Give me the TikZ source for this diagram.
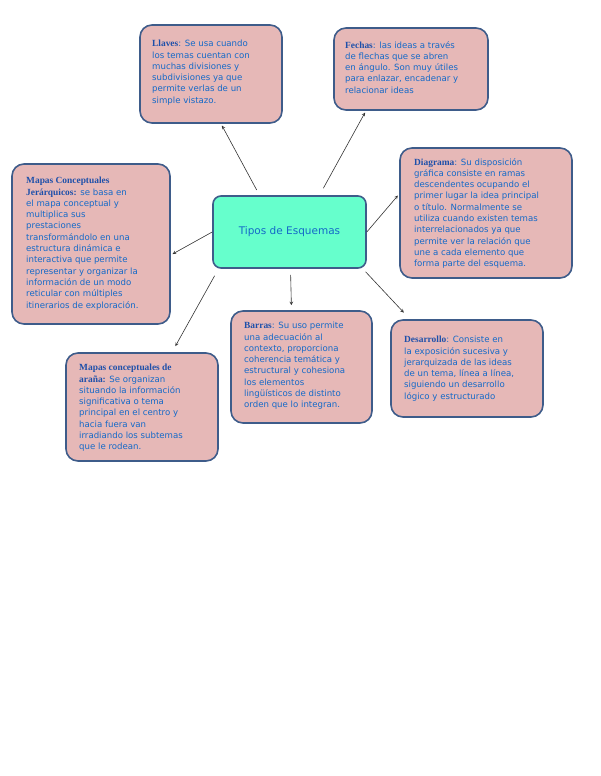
\documentclass[tikz,border=0pt]{standalone}
\usepackage{fontspec}
\setmainfont{DejaVu Sans}
\newfontfamily\headfont{Liberation Serif}
\definecolor{boxpink}{RGB}{230,184,183}
\definecolor{boxedge}{RGB}{62,92,138}
\definecolor{txtblue}{RGB}{20,105,200}
\definecolor{headblue}{RGB}{30,80,170}
\definecolor{mint}{RGB}{102,255,204}
\tikzset{
  cajita/.style={rectangle, rounded corners=12pt, fill=boxpink, draw=boxedge, line width=1.6pt, inner sep=0pt},
  texto/.style={anchor=north west, align=left, inner sep=0pt, text=txtblue, font=\fontsize{8.6}{11.3}\selectfont},
  flecha/.style={->, >=stealth, line width=0.6pt, color=black!80, shorten >=2pt}
}
\newcommand{\cab}[1]{{\headfont\bfseries\fontsize{9.4}{11.3}\selectfont\color{headblue}#1}}
\begin{document}
\begin{tikzpicture}[x=1pt,y=-1pt]
\useasboundingbox (0,0) rectangle (600,776);
% cajas
\node[cajita, minimum width=142pt, minimum height=98pt] (llaves) at (211,74){};
\node[cajita, minimum width=154pt, minimum height=82pt] (fechas) at (411,69){};
\node[cajita, minimum width=158pt, minimum height=160pt] (jerarq) at (91,244){};
\node[cajita, minimum width=172pt, minimum height=130pt] (diagrama) at (486,213){};
\node[cajita, minimum width=152pt, minimum height=108pt] (arana) at (142,407){};
\node[cajita, minimum width=141pt, minimum height=112pt] (barras) at (301.5,367){};
\node[cajita, minimum width=152pt, minimum height=97pt] (desarrollo) at (467,368.5){};
\node[rectangle, rounded corners=8pt, fill=mint, draw=boxedge, line width=1.6pt, minimum width=153pt, minimum height=72pt, text=txtblue, font=\fontsize{10.5}{12}\selectfont] (centro) at (289.5,232){Tipos de Esquemas};
% textos
\node[texto] (tllaves) at (152,40){\cab{Llaves}: Se usa cuando\\los temas cuentan con\\muchas divisiones y\\subdivisiones ya que\\permite verlas de un\\simple vistazo.};
\node[texto] (tfechas) at (345,41){\cab{Fechas}: las ideas a través\\de flechas que se abren\\en ángulo. Son muy útiles\\para enlazar, encadenar y\\relacionar ideas};
\begin{scope}
\clip (14,166) rectangle (168,313);
\node[texto] (tjerarq) at (26,177){\cab{Mapas Conceptuales}\\\cab{Jerárquicos:} se basa en\\el mapa conceptual y\\multiplica sus\\prestaciones\\transformándolo en una\\estructura dinámica e\\interactiva que permite\\representar y organizar la\\información de un modo\\reticular con múltiples\\itinerarios de exploración.};
\end{scope}
\begin{scope}
\clip (402,150) rectangle (570,271);
\node[texto] (tdiagrama) at (414,158){\cab{Diagrama}: Su disposición\\gráfica consiste en ramas\\descendentes ocupando el\\primer lugar la idea principal\\o título. Normalmente se\\utiliza cuando existen temas\\interrelacionados ya que\\permite ver la relación que\\une a cada elemento que\\forma parte del esquema.};
\end{scope}
\begin{scope}
\clip (68,355) rectangle (216,454);
\node[texto] (tarana) at (79,364){\cab{Mapas conceptuales de}\\\cab{araña:} Se organizan\\situando la información\\significativa o tema\\principal en el centro y\\hacia fuera van\\irradiando los subtemas\\que le rodean.};
\end{scope}
\node[texto] (tbarras) at (244,322){\cab{Barras}: Su uso permite\\una adecuación al\\contexto, proporciona\\coherencia temática y\\estructural y cohesiona\\los elementos\\lingüísticos de distinto\\orden que lo integran.};
\node[texto] (tdesarrollo) at (404,336){\cab{Desarrollo}: Consiste en\\la exposición sucesiva y\\jerarquizada de las ideas\\de un tema, línea a línea,\\siguiendo un desarrollo\\lógico y estructurado};
% conectores
\draw[flecha, shorten <=6pt] ([xshift=-30pt]centro.north) -- ([xshift=10pt]llaves.south);
\draw[flecha, shorten <=8pt] ([xshift=30pt]centro.north) -- ([xshift=-45pt]fechas.south);
\draw[flecha] (centro.west) -- ([yshift=-11pt]jerarq.east);
\draw[flecha] (centro.east) -- ([yshift=19pt]diagrama.west);
\draw[flecha, shorten <=6pt, shorten >=5pt] ([xshift=1pt]centro.south) -- ([xshift=-10pt]barras.north);
\draw[flecha, shorten <=8pt, shorten >=7pt] ([xshift=-71pt]centro.south) -- ([xshift=30pt]arana.north);
\draw[flecha, shorten <=4pt, shorten >=9pt] ([xshift=-4pt]centro.south east) -- ([xshift=-57pt]desarrollo.north);
\end{tikzpicture}
\end{document}
